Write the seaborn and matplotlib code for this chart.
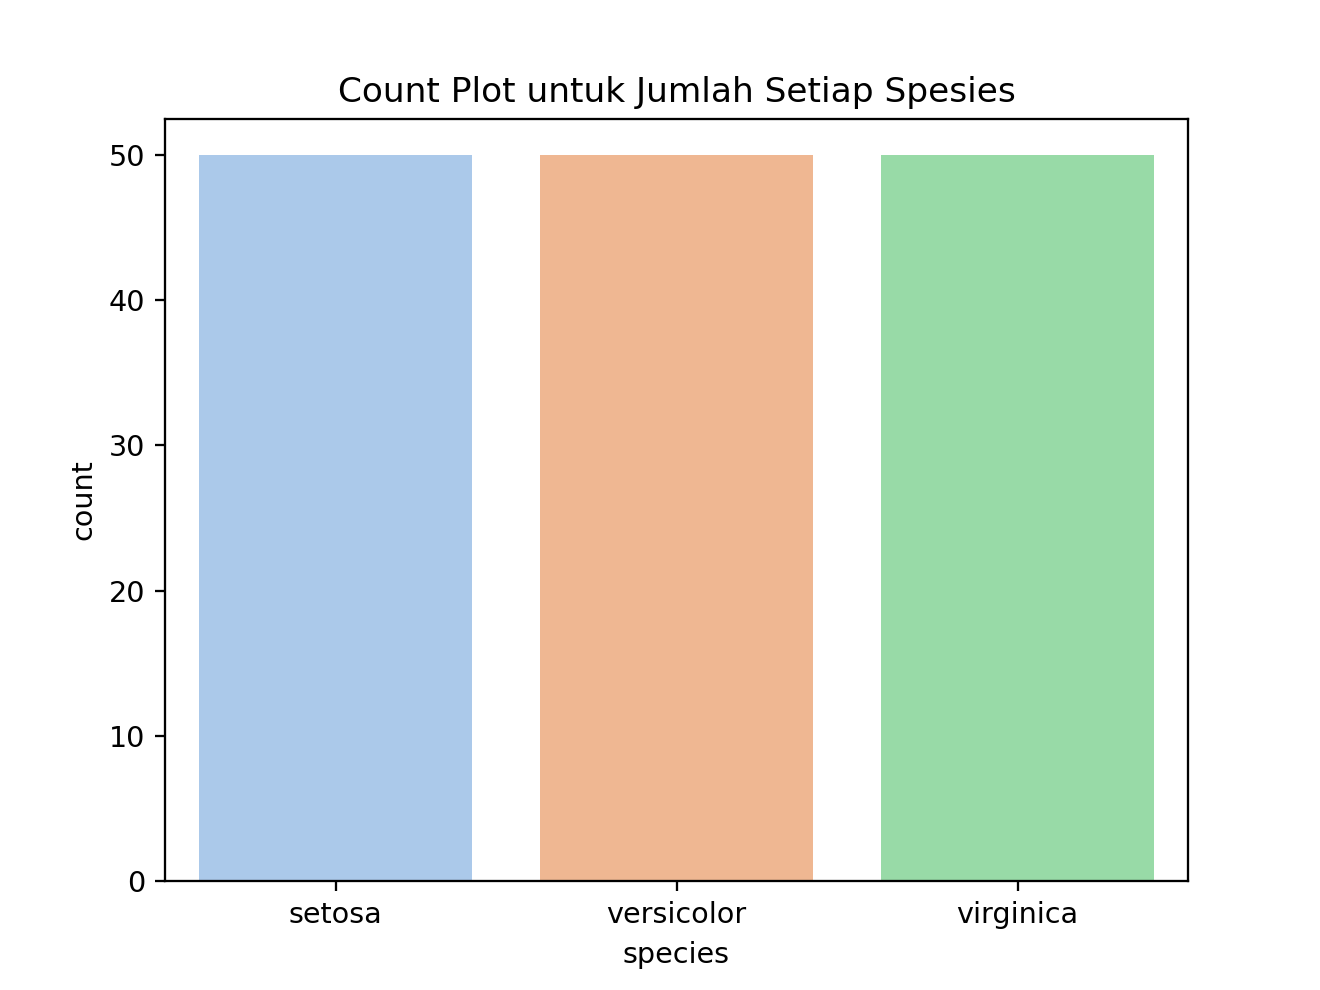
# Count plot jumlah setiap spesies (iris)

import pandas as pd
import seaborn as sns
import matplotlib.pyplot as plt

# data jumlah per spesies
species = ['setosa', 'versicolor', 'virginica']
counts = [50, 50, 50]

df = pd.DataFrame({'species': species, 'count': counts})

plt.figure(figsize=(6.4, 4.8))
sns.barplot(x='species', y='count', hue='species', data=df, palette='pastel', legend=False)

plt.title('Count Plot untuk Jumlah Setiap Spesies')
plt.xlabel('species')
plt.ylabel('count')

plt.savefig('out.png', dpi=206.25)
